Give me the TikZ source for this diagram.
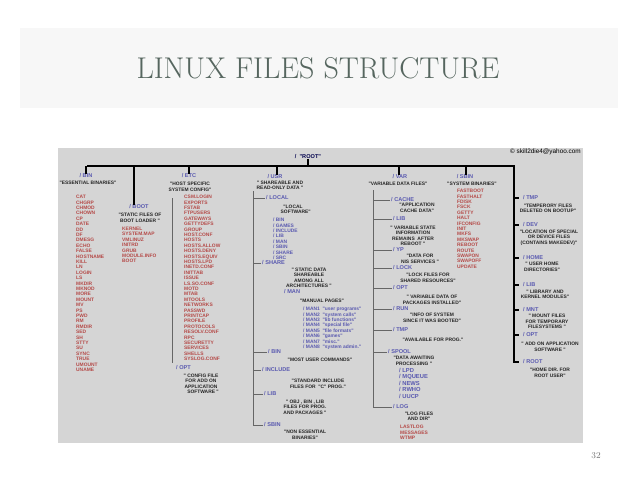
\documentclass[tikz,border=0pt]{standalone}
\usepackage{fontspec}
\newfontfamily\lbl{Liberation Sans}
\definecolor{dirblue}{HTML}{5A5AB0}
\definecolor{itemred}{HTML}{B54A48}
\definecolor{titlec}{HTML}{56665F}
\definecolor{panel}{HTML}{D5D5D5}
\tikzset{
 lab/.style={font=\lbl\bfseries\fontsize{4.9}{5.4}\selectfont, inner sep=0pt, align=center},
 dir/.style={lab, text=dirblue, font=\lbl\bfseries\fontsize{5.6}{5.4}\selectfont},
 desc/.style={lab, text=black!85},
 item/.style={lab, text=itemred, align=left, anchor=north west},
 bitem/.style={lab, text=dirblue, align=left, anchor=north west},
 bar/.style={line width=1.8pt, black},
 tline/.style={line width=0.6pt, black!60},
}
\begin{document}
\begin{tikzpicture}[x=1pt,y=-1pt]
\useasboundingbox (0,0) rectangle (638,479);
\fill[white] (0,0) rectangle (638,479);
\fill[black!3] (20,28) rectangle (618,108);
\node[text=titlec, font=\fontsize{30}{32}\selectfont, inner sep=0] (title) at (318,68) {LINUX FILES STRUCTURE};
\fill[panel] (58,148) rectangle (583,443);
\node[text=black!55, font=\fontsize{9}{10}\selectfont, inner sep=0] (pg) at (596,456) {32};
\node[anchor=east, font=\lbl\fontsize{6.4}{7}\selectfont, inner sep=0] (copy) at (581,152) {\textcopyright\ skill2die4@yahoo.com};
\node[dir, text=black!70!blue] (root) at (308,157) {/ \ "ROOT"};
% bar
\coordinate (barL) at (87,166);
\coordinate (barR) at (514,166);
\coordinate (barE) at (514,363);
\draw[bar] (barL) -- (barR) -- (barE);
\draw[bar] (root.south) -- (root.south|-barL);
% BIN
\node[dir] (bin) at (86,176) {/ BIN};
\node[desc] (bind) at (88,183) {"ESSENTIAL BINARIES"};
\draw[bar] (bin.north) -- (bin.north|-barL);
\node[item] (binl) at (76,195) {CAT\\CHGRP\\CHMOD\\CHOWN\\CP\\DATE\\DD\\DF\\DMESG\\ECHO\\FALSE\\HOSTNAME\\KILL\\LN\\LOGIN\\LS\\MKDIR\\MKNOD\\MORE\\MOUNT\\MV\\PS\\PWD\\RM\\RMDIR\\SED\\SH\\STTY\\SU\\SYNC\\TRUE\\UMOUNT\\UNAME};
% BOOT
\node[dir] (boot) at (139,207) {/ BOOT};
\node[desc] (bootd) at (140,218) {"STATIC FILES OF\\BOOT LOADER "};
\draw[bar] (boot.north-|134,0) -- (134,166);
\node[item] (bootl) at (122,227) {KERNEL\\SYSTEM.MAP\\VMLINUZ\\INITRD\\GRUB\\MODULE.INFO\\BOOT};
% ETC
\node[dir] (etc) at (189,176) {/ ETC};
\node[desc] (etcd) at (190,187) {"HOST SPECIFIC\\SYSTEM CONFIG"};
\draw[bar] (etc.north) -- (etc.north|-barL);
\node[item] (etcl) at (184,195) {CSM.LOGIN\\EXPORTS\\FSTAB\\FTPUSERS\\GATEWAYS\\GETTYDEFS\\GROUP\\HOST.CONF\\HOSTS\\HOSTS.ALLOW\\HOSTS.DENY\\HOSTS.EQUIV\\HOSTS.LPD\\INETD.CONF\\INITTAB\\ISSUE\\LS.SO.CONF\\MOTD\\MTAB\\MTOOLS\\NETWORKS\\PASSWD\\PRINTCAP\\PROFILE\\PROTOCOLS\\RESOLV.CONF\\RPC\\SECURETTY\\SERVICES\\SHELLS\\SYSLOG.CONF};
\coordinate (etct) at (172,198);
\coordinate (etcb) at (172,363);
\draw[tline] (etct) -- (etcb);
\node[dir, anchor=west] (eopt) at (176,368) {/ OPT};
\node[desc] (eoptd) at (201,384) {" CONFIG FILE\\FOR ADD ON\\APPLICATION\\\ \ \ SOFTWARE "};
% USR
\node[dir] (usr) at (275,177) {/ USR};
\node[desc] (usrd) at (280,185.5) {" SHAREABLE AND\\READ-ONLY DATA "};
\draw[bar] (usr.north-|277,0) -- (277,166);
\coordinate (usrt) at (253,191);
\coordinate (usrb) at (253,425);
\draw[tline] (usrt) -- (usrb);
\node[dir, anchor=west] (ulocal) at (266,198) {/ LOCAL};
\node[desc] (ulocald) at (293,209.5) {"LOCAL\\\ \ \ \ SOFTWARE"};
\node[bitem] (ulocall) at (273,218) {/ BIN\\/ GAMES\\/ INCLUDE\\/ LIB\\/ MAN\\/ SBIN\\/ SHARE\\/ SRC};
\node[dir, anchor=west] (ushare) at (262,263) {/ SHARE};
\node[desc] (usharedesc) at (309,278) {" STATIC DATA\\SHAREABLE\\AMONG ALL\\ARCHITECTURES "};
\node[dir, anchor=west] (uman) at (284,292) {/ MAN};
\node[desc] (umand) at (322,301) {"MANUAL PAGES"};
\node[bitem] (umanl) at (303,307) {/ MAN1 \ "user programs"\\/ MAN2 \ "system calls"\\/ MAN3 \ "lib functions"\\/ MAN4 \ "special file"\\/ MAN5 \ "file formats"\\/ MAN6 \ "games"\\/ MAN7 \ "misc."\\/ MAN8 \ "system admin."};
\node[dir, anchor=west] (ubin) at (268,352) {/ BIN};
\node[desc] (ubind) at (320,360) {"MOST USER COMMANDS"};
\node[dir, anchor=west] (uinc) at (262,370) {/ INCLUDE};
\node[desc] (uincd) at (318,384) {"STANDARD INCLUDE\\FILES FOR \ "C" PROG."};
\node[dir, anchor=west] (ulib) at (264,394) {/ LIB};
\node[desc] (ulibd) at (305,407) {" OBJ , BIN , LIB\\FILES FOR PROG.\\AND PACKAGES "};
\node[dir, anchor=west] (usbin) at (264,425) {/ SBIN};
\node[desc] (usbind) at (305,435) {"NON ESSENTIAL\\BINARIES"};
\foreach \n in {ulocal,ushare,ubin,uinc,ulib,usbin}
  \draw[tline] (\n.west) ++(-1,0) -- (\n.west -| usrt);
% VAR
\node[dir] (var) at (400,177) {/ VAR};
\node[desc] (vard) at (398,183.5) {"VARIABLE DATA FILES"};
\draw[bar] (var.north-|399,0) -- (399,166);
\coordinate (vart) at (373,190);
\coordinate (varb) at (373,407);
\draw[tline] (vart) -- (varb);
\node[dir, anchor=west] (vcache) at (391,200) {/ CACHE};
\node[desc] (vcached) at (417,208) {"APPLICATION\\CACHE DATA"};
\node[dir, anchor=west] (vlib) at (393,219) {/ LIB};
\node[desc] (vlibd) at (413,236) {" VARIABLE STATE\\INFORMATION\\REMAINS \ AFTER\\REBOOT "};
\node[dir, anchor=west] (vyp) at (393,250) {/ YP};
\node[desc] (vypd) at (420,259) {"DATA FOR\\NIS SERVICES "};
\node[dir, anchor=west] (vlock) at (393,268) {/ LOCK};
\node[desc] (vlockd) at (428,278) {"LOCK FILES FOR\\SHARED RESOURCES"};
\node[dir, anchor=west] (vopt) at (393,288) {/ OPT};
\node[desc] (voptd) at (432,300) {" VARIABLE DATA OF\\PACKAGES INSTALLED"};
\node[dir, anchor=west] (vrun) at (393,309) {/ RUN};
\node[desc] (vrund) at (432,318) {"INFO OF SYSTEM\\SINCE IT WAS BOOTED"};
\node[dir, anchor=west] (vtmp) at (393,330) {/ TMP};
\node[desc] (vtmpd) at (433,340) {"AVAILABLE FOR PROG."};
\node[dir, anchor=west] (vspool) at (388,352) {/ SPOOL};
\node[desc] (vspoold) at (414,361) {"DATA AWAITING\\PROCESSING "};
\node[bitem, font=\lbl\bfseries\fontsize{5.8}{6.5}\selectfont] (vspooll) at (399,368) {/ LPD\\/ MQUEUE\\/ NEWS\\/ RWHO\\/ UUCP};
\node[dir, anchor=west] (vlog) at (393,407) {/ LOG};
\node[desc] (vlogd) at (419,416) {"LOG FILES\\AND DIR"};
\node[item] (vlogl) at (400,425) {LASTLOG\\MESSAGES\\WTMP};
\foreach \n in {vcache,vlib,vyp,vlock,vopt,vrun,vtmp,vspool,vlog}
  \draw[tline] (\n.west) ++(-1,0) -- (\n.west -| vart);
% SBIN
\node[dir] (sbin) at (465,177) {/ SBIN};
\node[desc] (sbind) at (472,183.5) {"SYSTEM BINARIES"};
\draw[bar] (sbin.north-|466,0) -- (466,166);
\node[item] (sbinl) at (457,189) {FASTBOOT\\FASTHALT\\FDISK\\FSCK\\GETTY\\HALT\\IFCONFIG\\INIT\\MKFS\\MKSWAP\\REBOOT\\ROUTE\\SWAPON\\SWAPOFF\\UPDATE};
% right column
\node[dir, anchor=west] (rtmp) at (523,198) {/ TMP};
\node[desc] (rtmpd) at (548,208.5) {"TEMPERORY FILES\\DELETED ON BOOTUP"};
\node[dir, anchor=west] (rdev) at (523,225) {/ DEV};
\node[desc] (rdevd) at (549,237.5) {"LOCATION OF SPECIAL\\OR DEVICE FILES\\(CONTAINS MAKEDEV)"};
\node[dir, anchor=west] (rhome) at (523,258) {/ HOME};
\node[desc] (rhomed) at (542,267) {" USER HOME\\DIRECTORIES"};
\node[dir, anchor=west] (rlib) at (523,285) {/ LIB};
\node[desc] (rlibd) at (545,294.5) {" LIBRARY AND\\KERNEL MODULES"};
\node[dir, anchor=west] (rmnt) at (523,310) {/ MNT};
\node[desc] (rmntd) at (547,321.5) {" MOUNT FILES\\FOR TEMPORARY\\FILESYSTEMS "};
\node[dir, anchor=west] (ropt) at (523,335) {/ OPT};
\node[desc] (roptd) at (550,347) {" ADD ON APPLICATION\\SOFTWARE "};
\node[dir, anchor=west] (rroot) at (523,362) {/ ROOT};
\node[desc] (rrootd) at (550,373) {"HOME DIR. FOR\\ROOT USER"};
\foreach \n in {rtmp,rdev,rhome,rlib,rmnt,ropt,rroot}
  \draw[bar] (\n.west -| barR) -- ++(5,0);
\end{tikzpicture}
\end{document}
